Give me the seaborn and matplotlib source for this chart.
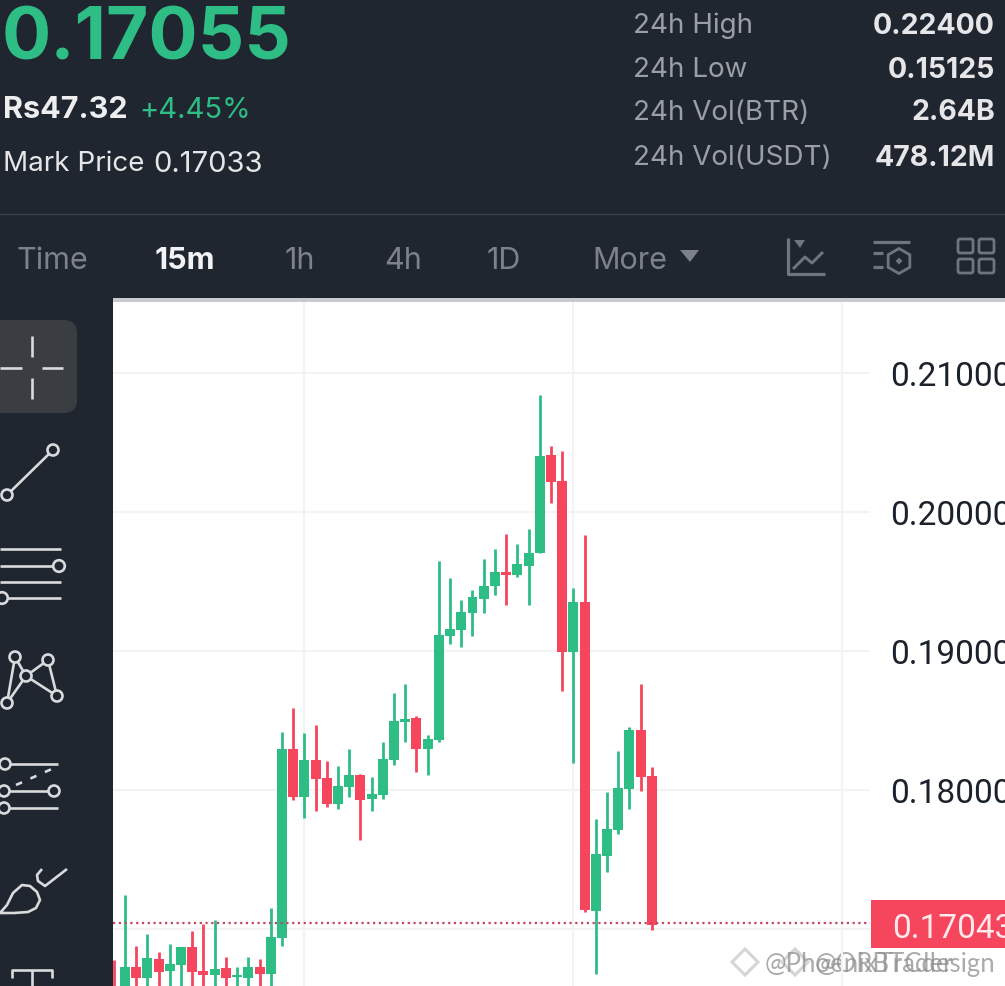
import numpy as np
import pandas as pd
import seaborn as sns
import matplotlib.pyplot as plt
from matplotlib.patches import Circle, FancyBboxPatch, Polygon, Rectangle, RegularPolygon

# candle values (first candle only shows its wick)
opens = [.16561, .16561, .16727, .16647, .16784, .16698, .16741, .16871, .16698, .16669, .16719, .16655, .16647,
         .16727, .16676, .16935, .18295, .17950, .18216, .18086, .17899, .18022, .18108, .17935, .17964, .18216,
         .18489, .18518, .18295, .18360, .19108, .19151, .19273, .19374, .19468, .19568, .19547, .19611, .19705,
         .20410, .20223, .18993, .19352, .17129, .17525, .17712, .18007, .18432, .18101]
closes = [.16500, .16727, .16647, .16791, .16691, .16748, .16871, .16691, .16669, .16712, .16647, .16669, .16727,
          .16676, .16942, .18295, .17950, .18216, .18079, .17899, .18029, .18108, .17928, .17971, .18223, .18496,
          .18511, .18295, .18367, .19115, .19158, .19281, .19388, .19468, .19568, .19547, .19626, .19705, .20403,
          .20216, .18993, .19352, .17137, .17540, .17719, .18014, .18432, .18094, .17029]
highs = [.16777, .17245, .16878, .16964, .16835, .16892, .16871, .16986, .17036, .17065, .16799, .16727, .16799,
         .16784, .17151, .18417, .18590, .18410, .18468, .18209, .18173, .18295, .18115, .18094, .18345, .18698,
         .18763, .18532, .18396, .19647, .19525, .19367, .19439, .19662, .19734, .19842, .19770, .19878, .20842,
         .20475, .20439, .19453, .19834, .17791, .17986, .18281, .18453, .18763, .18165]
lows = [.16489, .16489, .16489, .16489, .16489, .16489, .16489, .16489, .16489, .16489, .16489, .16489, .16489,
        .16489, .16489, .16878, .17928, .17799, .17849, .17878, .17863, .17950, .17640, .17849, .17935, .18180,
        .18345, .18129, .18108, .18345, .19050, .19029, .19108, .19273, .19403, .19331, .19532, .19331, .19705,
        .20065, .18712, .18194, .17122, .16676, .17410, .17683, .17863, .17993, .16993]
grid_prices = [.17, .18, .19, .20, .21]
price_labels = ["", "0.18000", "0.19000", "0.20000", "0.21000"]
grid_candles = [16, 40, 64]
last_price = 0.17043

stat_names = ["24h High", "24h Low", "24h Vol(BTR)", "24h Vol(USDT)"]
stat_values = ["0.22400", "0.15125", "2.64B", "478.12M"]
tab_names = ["Time", "15m", "1h", "4h", "1D", "More"]

DARK = "#1f2630"
GREEN = "#2ebd85"
RED = "#f6465d"
ICON = "#d9dadc"
MUTED = "#6f757e"

sns.set_theme(style="white")
plt.rcParams['font.family'] = ['Inter', 'DejaVu Sans']

df = pd.DataFrame({"candle": np.arange(-1, len(opens) - 1), "open": opens, "close": closes, "high": highs, "low": lows})
df["up"] = df["close"] >= df["open"]
df["bottom"] = df[["open", "close"]].min(axis=1)
df["height"] = (df["close"] - df["open"]).abs()
wicks = df.melt(id_vars=["candle", "up"], value_vars=["high", "low"], value_name="price")

fig = plt.figure(figsize=(10.05, 9.86), dpi=100, facecolor=DARK)

# the app around the chart, drawn in pixel coordinates
ui = fig.add_axes([0, 0, 1, 1], zorder=0)
ui.set_xlim(0, 1005)
ui.set_ylim(986, 0)
ui.axis("off")
ui.add_patch(Rectangle((113, 298), 892, 688, color="white", lw=0))
ui.add_patch(Rectangle((113, 298), 892, 4, color="#c9cacd", lw=0))
ui.plot([0, 1005], [214, 214], color="#3b4048", lw=1)


def label(x, y, s, size, color, weight="normal", ha="left", family="Inter"):
    ui.text(x, y, s, fontsize=size, color=color, fontweight=weight, ha=ha, va="center_baseline", family=family)


label(2, 33, "0.17055", 52.5, GREEN, "bold")
label(3, 107, "Rs47.32", 22, "#eeeef0", "bold")
label(139, 107, "+4.45%", 21, GREEN)
label(3, 161, "Mark Price", 20, "#e6e6e9")
label(153, 161, "0.17033", 21, "#e6e6e9")
for y, name, value in zip([23, 67, 110, 155], stat_names, stat_values):
    label(633, y, name, 20, "#9a9ea5")
    label(995, y, value, 20.5, "#e6e6e9", "bold", ha="right")
for x, name in zip([17, 155, 285, 384, 487, 592], tab_names):
    if name == "15m":
        label(x, 258, name, 22, "#f2f2f4", "bold")
    else:
        label(x, 258, name, 22, "#7d828a")
ui.add_patch(Polygon([(680, 250), (699, 250), (690, 262)], color="#7d828a", lw=0))


def stroke(points, color=ICON, lw=1.9, **kws):
    xs, ys = zip(*points)
    ui.plot(xs, ys, color=color, lw=lw, solid_capstyle="butt", **kws)


def ring(x, y, r=5.5):
    ui.add_patch(Circle((x, y), r, fc=DARK, ec=ICON, lw=1.9, zorder=4))


# top right icons
stroke([(788, 238), (788, 274), (825, 274)], MUTED, 2.3)
stroke([(793, 269), (805, 257), (812, 263), (823, 252)], MUTED, 2.1)
ui.add_patch(Polygon([(794, 240), (805, 240), (800, 248)], color=MUTED, lw=0))
stroke([(873, 242), (910, 242)], MUTED, 2.3)
stroke([(873, 253), (883, 253)], MUTED, 2.3)
stroke([(873, 267), (883, 267)], MUTED, 2.3)
ui.add_patch(RegularPolygon((899, 261), 6, radius=12.5, fc="none", ec=MUTED, lw=2))
ui.add_patch(RegularPolygon((899, 261), 4, radius=3.5, color=MUTED, lw=0))
for x in [958, 979]:
    for y in [239, 259]:
        ui.add_patch(FancyBboxPatch((x, y), 15, 14, boxstyle="round,pad=0,rounding_size=2", fc="none", ec=MUTED, lw=2))

# left toolbar
ui.add_patch(FancyBboxPatch((-20, 320), 97, 93, boxstyle="round,pad=0,rounding_size=13", color="#3a3d42", lw=0))
stroke([(0, 368), (22, 368)])
stroke([(42, 368), (63, 368)])
stroke([(32, 336), (32, 357)])
stroke([(32, 378), (32, 399)])

stroke([(7, 495), (53, 450)])
ring(7, 495)
ring(53, 450)

stroke([(0, 549), (61, 549)])
stroke([(0, 566), (54, 566)])
stroke([(0, 582), (61, 582)])
stroke([(2, 598), (61, 598)])
ring(59, 566, 5.8)
ring(2, 598, 5.8)

for a, b in [((15, 657), (26, 676)), ((15, 657), (7, 703)), ((7, 703), (26, 676)),
             ((26, 676), (48, 660)), ((48, 660), (57, 696)), ((26, 676), (57, 696))]:
    stroke([a, b])
for x, y in [(15, 657), (48, 660), (26, 676), (57, 696), (7, 703)]:
    ring(x, y)

stroke([(5, 764), (58, 764)])
stroke([(4, 791), (54, 791)])
stroke([(4, 808), (58, 808)])
stroke([(16, 785), (54, 768)], ls=(0, (2.5, 3.5)))
ring(5, 764)
ring(4, 791)
ring(54, 791)
ring(4, 808)

stroke([(0, 913), (7, 905), (13, 893), (22, 885), (30, 886), (37, 892), (40, 900), (36, 908), (28, 912), (14, 913), (0, 913)])
stroke([(42, 869), (37, 875), (38, 881), (45, 886), (67, 869)])
stroke([(12, 978), (12, 970), (52, 970), (52, 978)])
stroke([(32, 970), (32, 986)])

# last price badge and watermark
ui.add_patch(Rectangle((871, 900), 134, 48, color=RED, lw=0))
label(892, 925, f"{last_price:.5f}", 24, "#ffe9ec", family="Roboto")
for x, y in [(745, 962), (795, 962)]:
    ui.add_patch(RegularPolygon((x, y), 4, radius=13, fc="none", ec="#c4c4c4", lw=2.2, alpha=0.7))
ui.text(765, 962, "@PhoenixTrader", fontsize=18.5, color="#8f8f8f", alpha=0.75, va="center_baseline", family="Lato")
ui.text(815, 962, "@ORBTCdesign", fontsize=18.5, color="#8f8f8f", alpha=0.75, va="center_baseline", family="Lato")

# price chart
ax = fig.add_axes([113 / 1005, 0, 757 / 1005, 684 / 986], zorder=1)
ax.patch.set_visible(False)
for up, color in [(True, GREEN), (False, RED)]:
    sns.lineplot(data=wicks[wicks["up"] == up], x="candle", y="price", units="candle", estimator=None, color=color,
                 lw=2, solid_capstyle="butt", legend=False, ax=ax, zorder=2)
    part = df[df["up"] == up]
    sns.barplot(data=part, x="candle", y="height", bottom=part["bottom"].values, native_scale=True, width=0.89,
                color=color, saturation=1, linewidth=0, errorbar=None, ax=ax, zorder=3)

ax.axhline(last_price, color="#c2475f", lw=1.6, ls=(0, (1, 1.6)), zorder=4)
ax.set_xlim(-1.07, 66.46)
ax.set_ylim(0.1659, 0.21511)
ax.set_xticks(grid_candles)
ax.set_yticks(grid_prices)
ax.set_yticklabels(price_labels)
ax.set_xlabel("")
ax.set_ylabel("")
ax.yaxis.tick_right()
ax.tick_params(axis="x", length=0, labelbottom=False)
ax.tick_params(axis="y", length=0, pad=14.5, labelsize=24, labelcolor="#1c222b")
for tick in ax.get_yticklabels():
    tick.set_family("Roboto")
ax.grid(True, color="#f3f3f4", lw=1.5)
ax.set_axisbelow(True)
sns.despine(ax=ax, left=True, bottom=True, top=True, right=True)

fig.savefig("out.png", dpi=100, facecolor=fig.get_facecolor())
